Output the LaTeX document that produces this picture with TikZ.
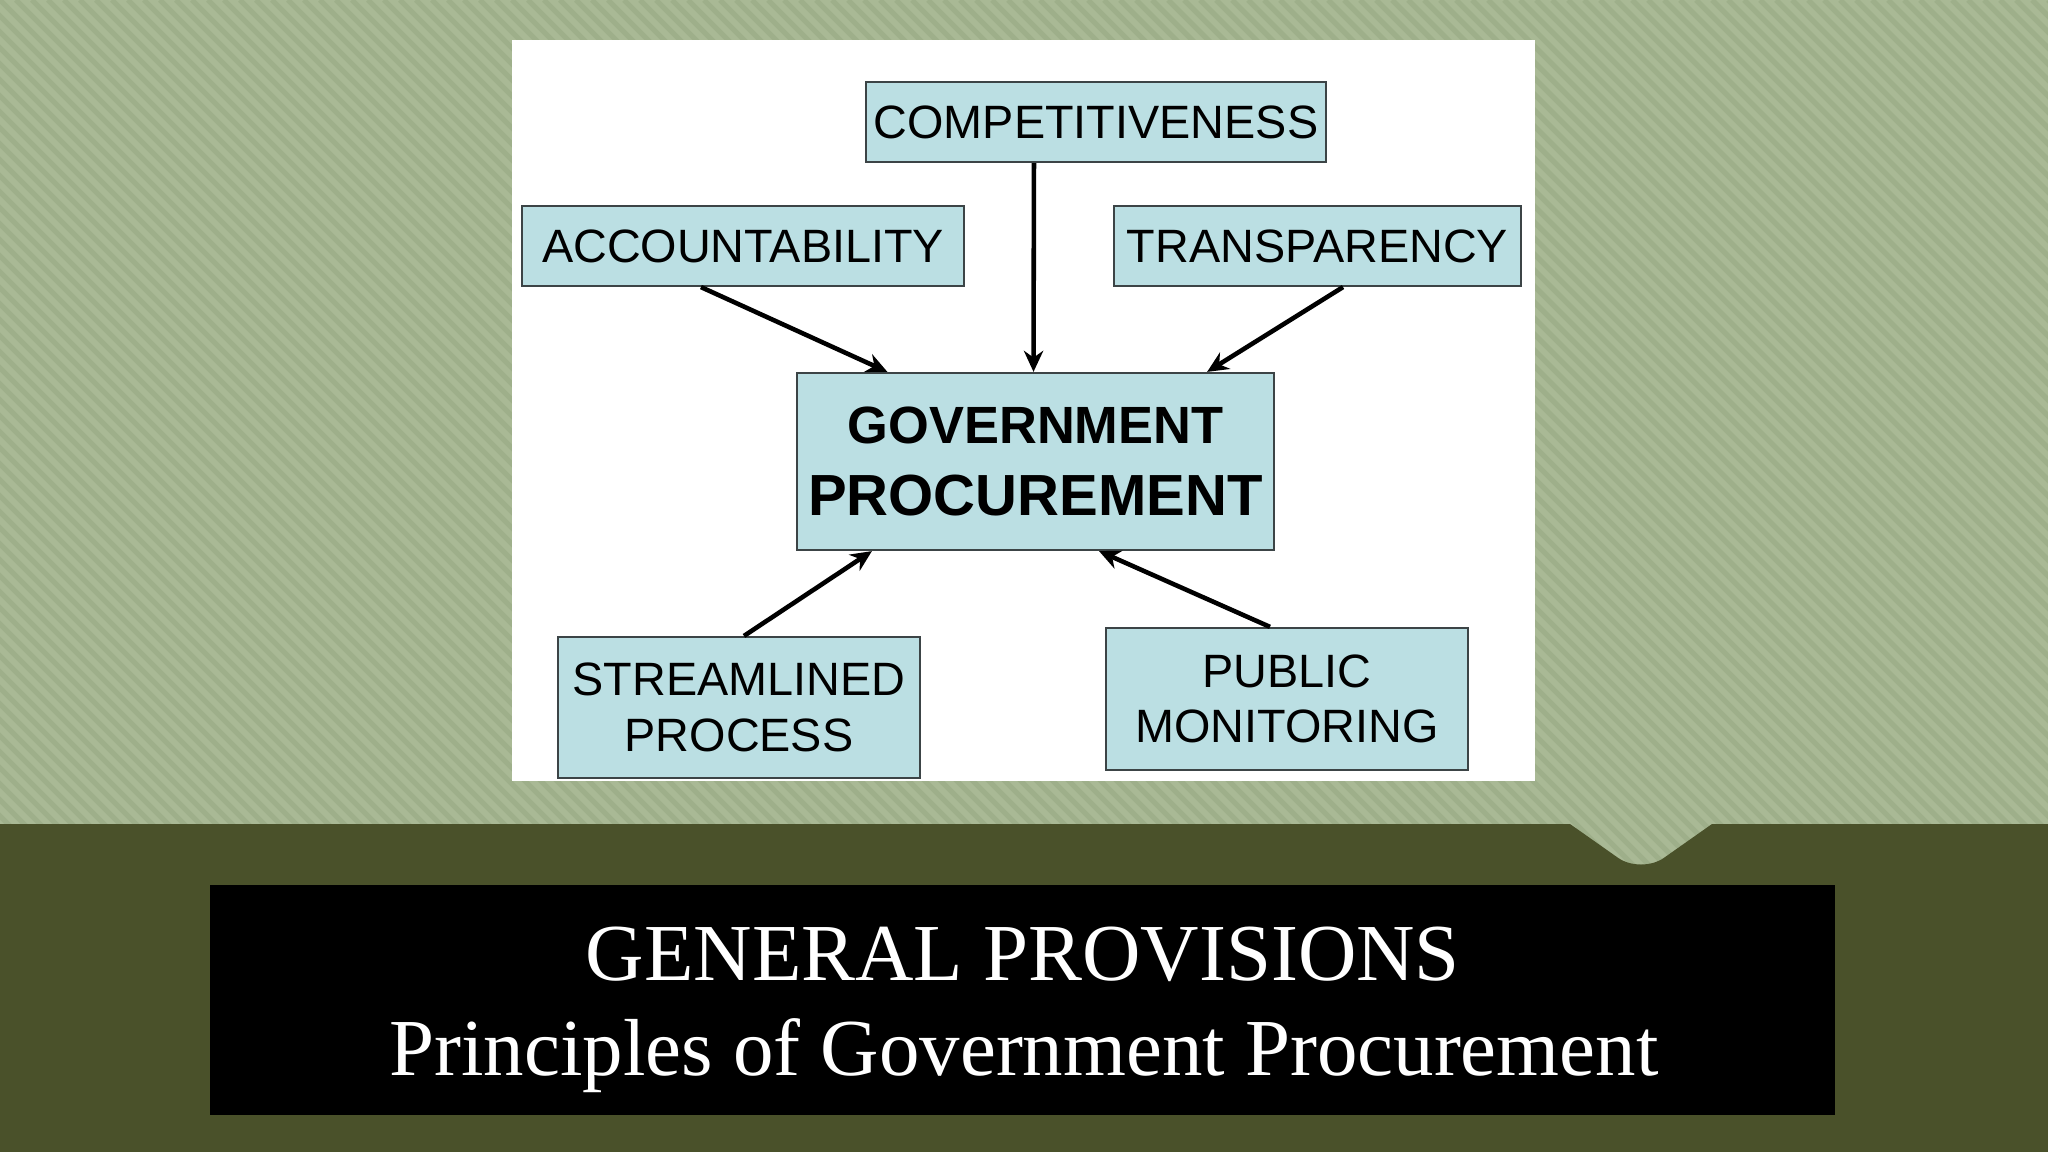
\documentclass[tikz,border=0pt]{standalone}
\usepackage{fontspec}
\setmainfont{Liberation Serif}
\newfontfamily\boxfont{Liberation Sans}
\usetikzlibrary{arrows.meta}

\definecolor{bggreen}{HTML}{A9B995}
\definecolor{stripegreen}{HTML}{9EAF8A}
\definecolor{bandgreen}{HTML}{4A512A}
\definecolor{boxblue}{HTML}{BBDFE3}
\definecolor{boxline}{HTML}{3C4446}

\tikzset{
  principle/.style={draw=boxline, line width=0.6pt, fill=boxblue, inner sep=0pt,
    align=center, font=\boxfont\fontsize{13.3}{15.8}\selectfont},
  arr/.style={-{Stealth[length=6pt,width=5.5pt]}, line width=1.3pt},
  title/.style={text=white, inner sep=0pt, font=\fontsize{23}{26}\selectfont},
}

\begin{document}
\begin{tikzpicture}[x=0.01cm,y=-0.01cm]
    % Background
    \useasboundingbox (0,0) rectangle (2048,1152);
    \fill[bggreen] (0,0) rectangle (2048,1152);
    \begin{scope}
        \clip (0,0) rectangle (2048,900);
        \foreach \i in {-1200,-1184,...,2048}
            \draw[stripegreen, line width=1.5pt] (\i,0) -- ++(1152,1152);
    \end{scope}

    % Dark band with notch
    \fill[bandgreen] (0,824) -- (1570,824) [rounded corners=8pt] -- (1641,874)
        [sharp corners] -- (1712,824) -- (2048,824) -- (2048,1152) -- (0,1152) -- cycle;

    % White panel
    \fill[white] (512,40) rectangle (1535,781);

    % Boxes
    \node[principle, minimum width=4.6cm, minimum height=0.8cm] (comp) at (1096,122) {COMPETITIVENESS};
    \node[principle, minimum width=4.42cm, minimum height=0.8cm] (acc) at (743,246) {ACCOUNTABILITY};
    \node[principle, minimum width=4.07cm, minimum height=0.8cm] (trans) at (1317.5,246) {TRANSPARENCY};
    \node[principle, minimum width=4.77cm, minimum height=1.77cm,
          font=\boxfont\bfseries\fontsize{16.5}{20.4}\selectfont] (gov) at (1035.5,461.5)
          {{\fontsize{14.9}{20.4}\selectfont GOVERNMENT}\\PROCUREMENT};
    \node[principle, minimum width=3.62cm, minimum height=1.41cm] (stream) at (739,707.5) {STREAMLINED\\PROCESS};
    \node[principle, minimum width=3.62cm, minimum height=1.42cm] (public) at (1287,699) {PUBLIC\\MONITORING};

    % Arrows
    \draw[arr] ([xshift=-0.42cm]acc.south) -- ([xshift=-1.48cm]gov.north);
    \draw[arr] ([xshift=-0.62cm]comp.south) -- ([xshift=-0.02cm]gov.north);
    \draw[arr] ([xshift=0.255cm]trans.south) -- ([xshift=1.715cm]gov.north);
    \draw[arr] ([xshift=0.05cm]stream.north) -- ([xshift=-1.635cm]gov.south);
    \draw[arr] ([xshift=-0.17cm]public.north) -- ([xshift=0.635cm]gov.south);

    % Title
    \fill[black] (210,885) rectangle (1835,1115);
    \node[title, anchor=base] (t1) at (1023,980) {GENERAL PROVISIONS};
    \node[title, anchor=base] (t2) at (1024,1075) {Principles of Government Procurement};
\end{tikzpicture}
\end{document}
